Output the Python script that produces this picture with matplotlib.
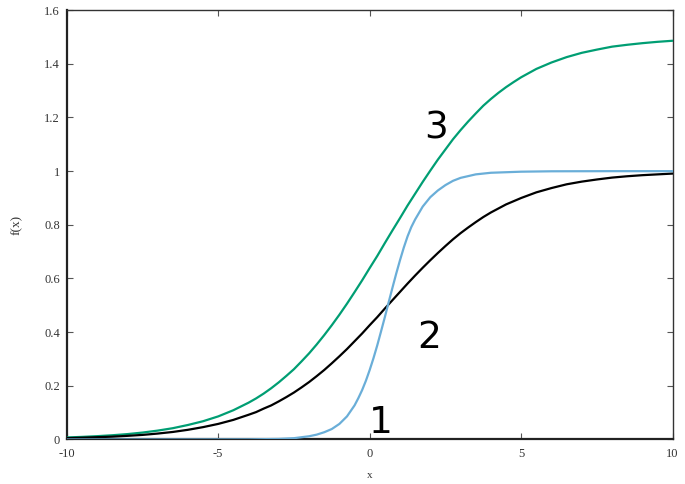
import matplotlib
matplotlib.use("Agg")
import matplotlib.pyplot as plt

# ---- data ----
x_bg = [-10, -9.5, -9, -8.5, -8, -7.5, -7, -6.5, -6, -5.5, -5, -4.5, -4, -3.75, -3.5, -3.25, -3,
        -2.75, -2.5, -2.25, -2, -1.75, -1.5, -1.25, -1, -0.75, -0.5, -0.25, 0, 0.25, 0.5,
        0.75, 1, 1.25, 1.5, 1.75, 2, 2.25, 2.5, 2.75, 3, 3.25, 3.5, 3.75, 4, 4.25, 4.5,
        4.75, 5, 5.5, 6, 6.5, 7, 7.5, 8, 8.5, 9, 9.5, 10]

curve2_black = [0.005, 0.0065, 0.0085, 0.0105, 0.0135, 0.017, 0.022, 0.028, 0.036, 0.046, 0.058,
                0.073, 0.092, 0.102, 0.115, 0.127, 0.142, 0.158, 0.175, 0.194, 0.214, 0.236,
                0.259, 0.284, 0.31, 0.337, 0.366, 0.395, 0.426, 0.456, 0.488, 0.519, 0.55,
                0.581, 0.611, 0.64, 0.668, 0.695, 0.721, 0.746, 0.769, 0.79, 0.81, 0.829,
                0.846, 0.861, 0.876, 0.888, 0.9, 0.921, 0.937, 0.951, 0.961, 0.969, 0.976,
                0.981, 0.985, 0.988, 0.991]

curve3_green = [0.0075, 0.0096, 0.0123, 0.0157, 0.020, 0.0257, 0.033, 0.042, 0.054, 0.068, 0.086,
                0.109, 0.137, 0.153, 0.171, 0.191, 0.213, 0.237, 0.262, 0.291, 0.321, 0.354,
                0.389, 0.426, 0.465, 0.506, 0.549, 0.593, 0.639, 0.684, 0.732, 0.779, 0.825,
                0.872, 0.916, 0.96, 1.002, 1.043, 1.081, 1.119, 1.153, 1.185, 1.215, 1.244,
                1.269, 1.292, 1.313, 1.332, 1.35, 1.381, 1.405, 1.425, 1.441, 1.453, 1.464,
                1.471, 1.477, 1.482, 1.486]

x_blue = [-10, -6, -4, -3, -2.5, -2, -1.75, -1.5, -1.25, -1, -0.75, -0.5, -0.375, -0.25,
          -0.125, 0, 0.125, 0.25, 0.375, 0.5, 0.625, 0.75, 0.875, 1, 1.125, 1.25, 1.375,
          1.5, 1.75, 2, 2.25, 2.5, 2.75, 3, 3.5, 4, 5, 6, 8, 10]
curve1_blue = [0.0, 0.0, 0.0004, 0.002, 0.0048, 0.012, 0.018, 0.027, 0.039, 0.058, 0.086,
               0.127, 0.154, 0.184, 0.219, 0.259, 0.303, 0.351, 0.403, 0.456, 0.511,
               0.565, 0.618, 0.668, 0.715, 0.757, 0.792, 0.82, 0.868, 0.903, 0.928,
               0.948, 0.964, 0.975, 0.988, 0.994, 0.998, 0.9995, 1.0, 1.0]

x_ticks = [-10, -5, 0, 5, 10]
y_ticks = [0, 0.2, 0.4, 0.6, 0.8, 1.0, 1.2, 1.4, 1.6]
y_tick_labels = ["0", "0.2", "0.4", "0.6", "0.8", "1", "1.2", "1.4", "1.6"]
curve_labels = ["1", "2", "3"]
label_pos_x = [0.36, 1.98, 2.18]
label_pos_y = [0.061, 0.378, 1.159]

# ---- figure ----
fig = plt.figure(figsize=(6.85, 4.84), dpi=100)
ax = fig.add_axes([0.0974, 0.092, 0.8846, 0.887])

kw = dict(lw=1.6, zorder=3, solid_joinstyle="round", solid_capstyle="round")
ax.plot(x_bg, curve3_green, color="#009e73", **kw)
ax.plot(x_bg, curve2_black, color="black", **kw)
ax.plot(x_blue, curve1_blue, color="#6aaed8", **kw)

ax.set_xlim(-10, 10)
ax.set_ylim(0, 1.6)
ax.set_xticks(x_ticks)
ax.set_xticklabels([str(t) for t in x_ticks])
ax.set_yticks(y_ticks)
ax.set_yticklabels(y_tick_labels)

serif = ["Liberation Serif", "DejaVu Serif"]
ax.tick_params(direction="in", length=4, width=0.8, top=True, right=True,
               labelsize=9, colors="#555555")
ax.tick_params(axis="x", pad=6)
ax.tick_params(axis="y", pad=5)
for lab in ax.get_xticklabels() + ax.get_yticklabels():
    lab.set_family(serif)
    lab.set_color("#333333")

for side in ["left", "bottom"]:
    ax.spines[side].set_linewidth(1.6)
    ax.spines[side].set_color("#222222")
for side in ["top", "right"]:
    ax.spines[side].set_linewidth(1.0)
    ax.spines[side].set_color("#333333")

ax.set_xlabel("x", family=serif, fontsize=8, color="#333333", labelpad=8)
ax.set_ylabel("f(x)", family=serif, fontsize=9.5, color="#333333", labelpad=15)

for t, px, py in zip(curve_labels, label_pos_x, label_pos_y):
    ax.text(px, py, t, fontsize=27, family="DejaVu Sans", color="black",
            ha="center", va="center", zorder=4)

fig.savefig("out.png", dpi=100)
